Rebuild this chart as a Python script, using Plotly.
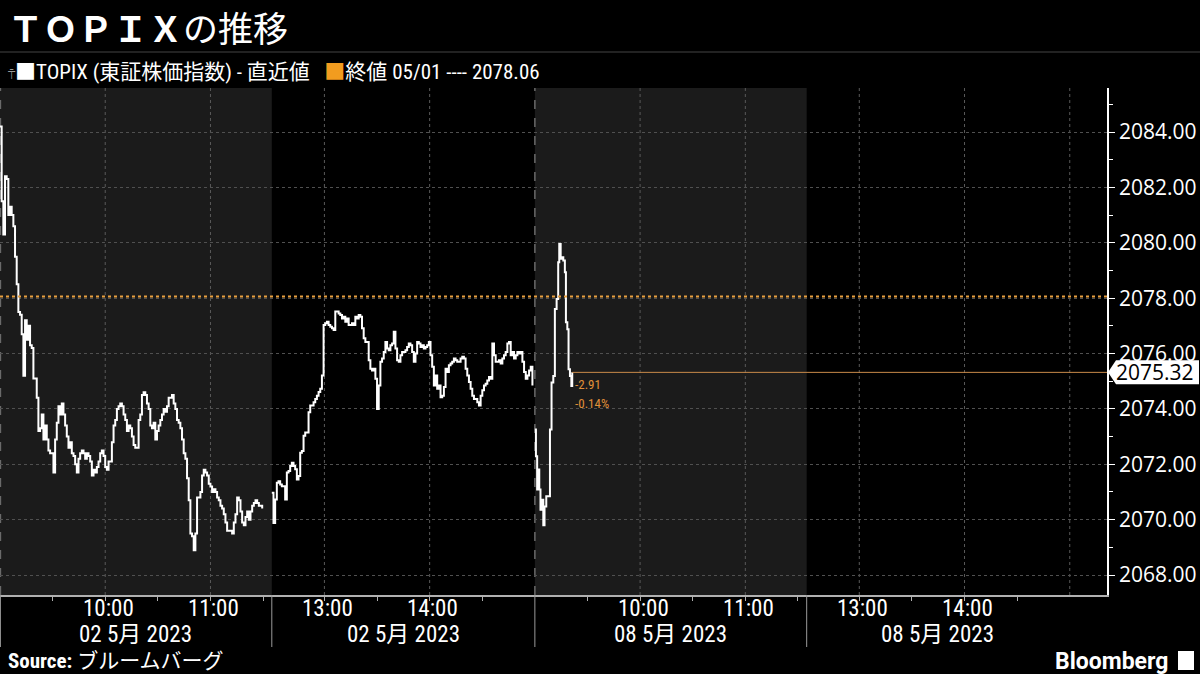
import plotly.graph_objects as go
import numpy as np

# ---------------- data ----------------
prev_close = 2078.06
last_price = 2075.32
change_abs = "-2.91"
change_pct = "-0.14%"

# 02 May morning session (9:00-11:30), roughly one reading per minute
am02_vals = [2084.2, 2081.5, 2080.3, 2082.4, 2082.3, 2081.0, 2081.3, 2081.0, 2080.6, 2079.5,
             2078.5, 2077.5, 2077.4, 2076.7, 2075.2, 2077.2, 2076.5, 2077.0, 2076.3, 2076.2,
             2075.1, 2075.1, 2074.4, 2073.2, 2073.3, 2073.8, 2072.9, 2073.4, 2072.9, 2072.5,
             2072.4, 2072.4, 2071.7, 2072.9, 2073.5, 2074.1, 2073.8, 2074.2, 2073.8, 2073.4,
             2073.0, 2072.6, 2072.8, 2072.4, 2072.3, 2072.0, 2071.7, 2072.2, 2072.4, 2072.5,
             2072.4, 2072.2, 2072.4, 2072.3, 2072.1, 2071.6, 2071.8, 2071.7, 2071.9, 2072.1,
             2072.4, 2072.5, 2072.3, 2071.9, 2071.8, 2072.1, 2072.1, 2072.8, 2073.4, 2073.6,
             2074.0, 2074.1, 2074.2, 2074.1, 2073.8, 2073.6, 2073.2, 2073.4,
             2073.3, 2073.0, 2072.7, 2072.6, 2072.6, 2073.6, 2073.8, 2074.5, 2074.6, 2074.5,
             2074.2, 2074.0, 2073.4, 2073.3, 2073.5, 2072.9, 2073.2, 2073.4, 2073.6, 2073.8,
             2074.0, 2073.9, 2074.1, 2074.4, 2074.4, 2074.5, 2074.2, 2074.0, 2073.6, 2073.5,
             2073.3, 2072.9, 2072.4, 2072.2, 2071.5, 2070.7, 2069.5, 2069.4, 2068.9, 2069.5,
             2070.8, 2070.8, 2071.0, 2071.6, 2071.8, 2071.7, 2071.6, 2071.3, 2071.2, 2071.0,
             2071.1, 2071.0, 2070.8, 2070.7, 2070.5, 2070.4, 2070.2, 2069.9, 2069.6, 2069.6,
             2069.6, 2069.5, 2069.9, 2070.2, 2070.8, 2070.7, 2070.3, 2069.9, 2069.8, 2070.1,
             2070.3, 2070.0, 2070.3, 2070.5, 2070.6, 2070.7, 2070.6, 2070.5, 2070.5, 2070.4]
am02_end_min = 149.5

# 02 May afternoon session (12:30-15:00)
pm02_vals = [2070.97, 2069.88, 2070.73, 2071.33, 2071.39, 2071.27, 2071.21, 2071.21, 2070.73, 2071.70,
             2071.76, 2071.94, 2072.06, 2071.94, 2071.82, 2071.45, 2071.58, 2072.42, 2072.48, 2073.03,
             2073.15, 2073.15, 2073.88, 2074.12, 2074.12, 2074.24, 2074.36, 2074.48, 2074.61, 2074.73,
             2075.21, 2077.03, 2077.09, 2077.15, 2077.03, 2076.97, 2076.91, 2076.85, 2077.52, 2077.52,
             2077.45, 2077.39, 2077.27, 2077.33, 2077.15, 2077.27, 2077.03, 2077.03, 2077.09, 2077.03,
             2077.33, 2077.27, 2077.39, 2077.33, 2076.91, 2076.55, 2076.42, 2076.42, 2075.76, 2075.45,
             2075.39, 2075.45, 2075.09, 2074.00, 2074.85, 2075.70, 2075.82, 2076.06, 2076.42, 2076.18,
             2076.12, 2076.30, 2076.36, 2076.79, 2076.18, 2075.76, 2075.70, 2075.94, 2076.06, 2076.06,
             2076.12, 2076.24, 2076.36, 2076.30, 2076.06, 2075.70, 2076.00, 2076.42, 2076.36, 2076.24,
             2076.30, 2076.18, 2076.24, 2076.30, 2076.42, 2075.94, 2075.52, 2074.85, 2075.21, 2074.73,
             2074.85, 2074.42, 2074.48, 2074.79, 2075.45, 2075.33, 2075.58, 2075.64, 2075.70, 2075.82,
             2075.76, 2075.70, 2075.70, 2075.82, 2075.88, 2075.82, 2075.45, 2075.21, 2074.97, 2074.73,
             2074.48, 2074.36, 2074.36, 2074.24, 2074.12, 2074.48, 2074.67, 2074.85, 2074.91, 2075.03,
             2075.15, 2075.09, 2076.36, 2075.94, 2075.70, 2075.70, 2075.76, 2075.64, 2075.82, 2075.94,
             2076.06, 2076.36, 2076.42, 2075.94, 2076.06, 2075.82, 2075.94, 2076.06, 2076.00, 2076.06,
             2075.70, 2075.33, 2075.09, 2075.21, 2075.39, 2075.52, 2074.85]
pm02_end_min = 148.6

# 08 May morning session (minutes after 9:00)
am08_min = [0, 0.6, 1.3, 1.9, 2.5, 3.2, 4.0, 4.8, 5.5, 6.5, 7.4, 8.6, 9.5, 10.5, 11.4, 12.4,
            13.3, 13.9, 14.7, 15.4, 16.2, 17.1, 17.7, 18.5, 19.2, 20.0, 20.8, 21.3]
am08_vals = [2073.26, 2072.29, 2071.09, 2071.81, 2071.09, 2070.36, 2070.72, 2069.80, 2070.48, 2070.85,
             2070.85, 2073.26, 2074.95, 2075.19, 2077.61, 2077.97, 2079.30, 2079.96, 2079.42, 2079.48,
             2079.36, 2078.94, 2077.13, 2076.88, 2075.43, 2075.19, 2074.83, 2075.32]

y_ticks = [2068, 2070, 2072, 2074, 2076, 2078, 2080, 2082, 2084]
y_minor = [2067, 2069, 2071, 2073, 2075, 2077, 2079, 2081, 2083, 2085]
date_labels = ["02 5月 2023", "02 5月 2023", "08 5月 2023", "08 5月 2023"]
hour_labels_am = ["10:00", "11:00"]
hour_labels_pm = ["13:00", "14:00"]

# ---------------- compressed trading-time axis ----------------
GAP = 0.083
X_MAX = 10.52
off_am02 = 0.0
off_pm02 = 2.5 + GAP
off_am08 = 5.0 + GAP
off_pm08 = 7.5 + 2 * GAP

x_am02 = off_am02 + np.linspace(0, am02_end_min, len(am02_vals)) / 60
x_pm02 = off_pm02 + np.linspace(0, pm02_end_min, len(pm02_vals)) / 60
x_am08 = off_am08 + np.array(am08_min) / 60

W, H = 1107, 507
L_T, L_B = 88, 595


def px(xp):
    return xp / W


def py(yp):
    return (L_B - yp) / H


NARROW = "Liberation Sans Narrow, Roboto Condensed, Noto Sans CJK JP, sans-serif"
WIDE = "Open Sans, Noto Sans, sans-serif"
fig = go.Figure()
for xs, ys in [(x_am02, am02_vals), (x_pm02, pm02_vals), (x_am08, am08_vals)]:
    fig.add_trace(go.Scatter(x=xs, y=ys, mode="lines",
                             line=dict(color="white", width=2, shape="hv"),
                             hoverinfo="skip", showlegend=False))

shapes = []
# shaded morning bands
for x0, x1 in [(off_am02, off_pm02), (off_am08, off_pm08)]:
    shapes.append(dict(type="rect", xref="x", yref="paper", x0=x0, x1=x1, y0=0, y1=1,
                       fillcolor="#1b1b1b", line=dict(width=0), layer="below"))
# vertical hourly gridlines
grid_x = []
for off in (off_am02, off_am08):
    grid_x += [off + 1, off + 2]
for off in (off_pm02, off_pm08):
    grid_x += [off + 0.5, off + 1.5]
grid_x.append(off_pm08 + 2.5)
for gx in grid_x:
    shapes.append(dict(type="line", xref="x", yref="paper", x0=gx, x1=gx, y0=0, y1=1,
                       line=dict(color="#5a5a5a", width=1, dash="dot"), layer="below"))
# day separators (dashed)
for gx in (0.004, off_am08):
    shapes.append(dict(type="line", xref="x", yref="paper", x0=gx, x1=gx, y0=0, y1=1,
                       line=dict(color="#6a6a6a", width=1.5, dash="dash"), layer="below"))
# session separators below the axis
for gx in (0.004, off_pm02, off_am08, off_pm08):
    shapes.append(dict(type="line", xref="x", yref="paper", x0=gx, x1=gx, y0=0, y1=py(647),
                       line=dict(color="#9a9a9a", width=1)))
# previous close (dotted orange)
shapes.append(dict(type="line", xref="paper", yref="y", x0=0, x1=1, y0=prev_close, y1=prev_close,
                   line=dict(color="#e8a040", width=2, dash="dot")))
# last price line
shapes.append(dict(type="line", xref="x", yref="y", x0=x_am08[-1], x1=X_MAX,
                   y0=last_price, y1=last_price, line=dict(color="#c98a4a", width=1)))
# last price tag
shapes.append(dict(type="path", xref="paper", yref="y", xsizemode="pixel", ysizemode="pixel",
                   xanchor=1, yanchor=last_price,
                   path="M1,0 L9,12 L92,12 L92,-12 L9,-12 Z",
                   fillcolor="white", line=dict(width=0), layer="above"))
# title rule
shapes.append(dict(type="line", xref="paper", yref="paper", x0=0, x1=px(1200), y0=py(52), y1=py(52),
                   line=dict(color="#444444", width=1)))
# bloomberg icon
shapes.append(dict(type="rect", xref="paper", yref="paper", x0=px(1178), x1=px(1194),
                   y0=py(670), y1=py(651), fillcolor="white", line=dict(width=0)))

annotations = []
annotations.append(dict(text="<b>ＴＯＰＩＸ</b>の推移", xref="paper", yref="paper",
                        x=px(6), y=py(26), xanchor="left", yanchor="middle", showarrow=False,
                        font=dict(size=35, color="white", family="Noto Sans CJK JP")))
annotations.append(dict(
    text="<span style='color:#9a9a9a;font-size:12px'>⍑</span>■TOPIX (東証株価指数) - 直近値   "
         "<span style='color:#f29c1f'>■</span>終値 05/01 ---- 2078.06",
    xref="paper", yref="paper", x=px(6), y=py(72), xanchor="left", yanchor="middle",
    showarrow=False, font=dict(size=21, color="white", family=NARROW)))
# time labels
hour_pos, hour_txt = [], []
for off in (off_am02, off_am08):
    hour_pos += [off + 1, off + 2]
    hour_txt += hour_labels_am
for off in (off_pm02, off_pm08):
    hour_pos += [off + 0.5, off + 1.5]
    hour_txt += hour_labels_pm
for hx, ht in zip(hour_pos, hour_txt):
    annotations.append(dict(text=ht, xref="x", yref="paper", x=hx, y=py(608), xshift=3,
                            xanchor="center", yanchor="middle", showarrow=False,
                            font=dict(size=23, color="white", family=NARROW)))
for i, cx in enumerate([(0 + 271) / 2, (271 + 535) / 2, (535 + 805) / 2, (805 + 1069) / 2]):
    annotations.append(dict(text=date_labels[i], xref="paper", yref="paper", x=px(cx), y=py(634),
                            xanchor="center", yanchor="middle", showarrow=False,
                            font=dict(size=23, color="white", family=NARROW)))
annotations.append(dict(text=change_abs, xref="x", yref="y", x=x_am08[-1], y=2074.9,
                        xanchor="left", yanchor="middle", showarrow=False, xshift=1,
                        font=dict(size=13, color="#e0903a", family=NARROW)))
annotations.append(dict(text=change_pct, xref="x", yref="y", x=x_am08[-1], y=2074.2,
                        xanchor="left", yanchor="middle", showarrow=False, xshift=1,
                        font=dict(size=13, color="#e0903a", family=NARROW)))
annotations.append(dict(text=f"{last_price:.2f}", xref="paper", yref="y", x=1, y=last_price,
                        xanchor="left", yanchor="middle", showarrow=False, xshift=7,
                        font=dict(size=21, color="black", family=WIDE)))
annotations.append(dict(text="<b>Source:</b> ブルームバーグ", xref="paper", yref="paper",
                        x=px(6), y=py(661), xanchor="left", yanchor="middle", showarrow=False,
                        font=dict(size=21, color="white", family=NARROW)))
annotations.append(dict(text="<b>Bloomberg</b>", xref="paper", yref="paper",
                        x=px(1170), y=py(661), xanchor="right", yanchor="middle", showarrow=False,
                        font=dict(size=23, color="white", family="Roboto, sans-serif")))

# x ticks: every half hour (labels drawn as annotations)
tickvals = []
for off in (off_am02, off_am08):
    tickvals += [off + v for v in (0.5, 1.0, 1.5, 2.0, 2.5)]
for off in (off_pm02, off_pm08):
    tickvals += [off + v for v in (0.5, 1.0, 1.5, 2.0)]

fig.update_layout(
    width=1200, height=674,
    margin=dict(l=0, r=1200 - W, t=L_T, b=674 - L_B),
    paper_bgcolor="black", plot_bgcolor="black",
    font=dict(family=NARROW, color="white"),
    shapes=shapes, annotations=annotations,
    xaxis=dict(range=[0, X_MAX], showgrid=False, zeroline=False,
               showline=True, linecolor="#b0b0b0", linewidth=1.5,
               tickmode="array", tickvals=tickvals, showticklabels=False,
               ticks="outside", ticklen=4, tickcolor="#b0b0b0"),
    yaxis=dict(side="right", range=[2067.28, 2085.59], zeroline=False,
               showgrid=True, gridcolor="#505050", griddash="dot", gridwidth=1,
               showline=True, linecolor="white", linewidth=1.5,
               tickmode="array", tickvals=y_ticks, ticktext=[f"{v:.2f}" for v in y_ticks],
               ticks="outside", ticklen=6, tickcolor="white",
               minor=dict(tickmode="array", tickvals=y_minor, ticks="outside", ticklen=4,
                          tickcolor="white", showgrid=False),
               tickfont=dict(size=21, color="white", family=WIDE)),
)

fig.write_html("out.html", config={"displayModeBar": False},
               post_script="document.body.style.margin='0px';"
                           "document.body.style.overflow='hidden';")
